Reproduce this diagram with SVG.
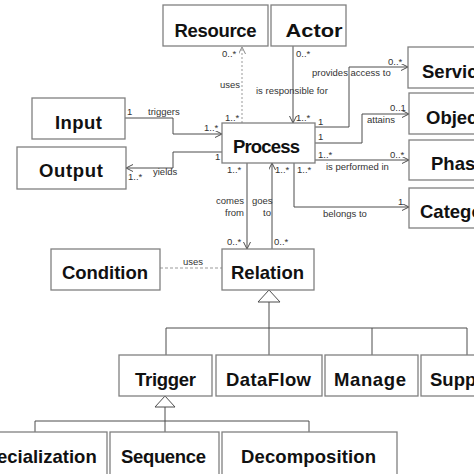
<svg xmlns="http://www.w3.org/2000/svg" width="474" height="474" viewBox="0 0 474 474">
<style>
.box{fill:#fff;stroke:#808080;stroke-width:1.3}
.name{font-family:"Liberation Sans",Arial,sans-serif;font-weight:bold;font-size:18.5px;fill:#111;text-anchor:middle}
.clip{text-anchor:start}
.lbl{font-family:"Liberation Sans",Arial,sans-serif;font-size:9.5px;fill:#333}
.end{text-anchor:end}
.conn{fill:none;stroke:#4d4d4d;stroke-width:1}
.dot{fill:none;stroke:#999;stroke-width:1;stroke-dasharray:2,2}
.dash{fill:none;stroke:#999;stroke-width:1;stroke-dasharray:3,2}
.gen{fill:#fff;stroke:#4d4d4d;stroke-width:1}
</style>
<defs>
<marker id="arr" markerUnits="userSpaceOnUse" markerWidth="9" markerHeight="9" refX="7" refY="3.5" orient="auto">
<path d="M0,0 L7,3.5 L0,7" fill="none" stroke="#4d4d4d" stroke-width="1"/>
</marker>
<marker id="arrg" markerUnits="userSpaceOnUse" markerWidth="9" markerHeight="9" refX="7" refY="3.5" orient="auto">
<path d="M0,0 L7,3.5 L0,7" fill="none" stroke="#888" stroke-width="1"/>
</marker>
</defs>
<rect width="474" height="474" fill="#fff"/>

<g id="connectors">
<line class="dot" x1="242" y1="123" x2="242" y2="47" marker-end="url(#arrg)"/>
<line class="conn" x1="293" y1="46" x2="293" y2="123" marker-end="url(#arr)"/>
<polyline class="conn" points="315,127 349,127 349,67 408,67" marker-end="url(#arr)"/>
<polyline class="conn" points="315,143 362,143 362,114 409,114" marker-end="url(#arr)"/>
<line class="conn" x1="315" y1="160" x2="409" y2="160" marker-end="url(#arr)"/>
<polyline class="conn" points="294,163 294,207 409,207" marker-end="url(#arr)"/>
<line class="conn" x1="247" y1="163" x2="247" y2="249" marker-end="url(#arr)"/>
<line class="conn" x1="272" y1="249" x2="272" y2="163" marker-end="url(#arr)"/>
<polyline class="conn" points="125,118 173,118 173,134 222,134" marker-end="url(#arr)"/>
<polyline class="conn" points="222,152 173,152 173,168 126,168" marker-end="url(#arr)"/>
<line class="dash" x1="160" y1="268" x2="222" y2="268"/>
<polygon class="gen" points="269,290 258,302 280,302"/>
<line class="conn" x1="269" y1="302" x2="269" y2="355"/>
<polyline class="conn" points="166,355 166,328 467,328 467,355"/>
<line class="conn" x1="372" y1="328" x2="372" y2="355"/>
<polygon class="gen" points="165,396 155,407 175,407"/>
<line class="conn" x1="165" y1="407" x2="165" y2="432"/>
<polyline class="conn" points="35,432 35,421 309,421 309,432"/>
<text class="lbl" x="127" y="115">1</text>
<text class="lbl" x="148" y="115">triggers</text>
<text class="lbl" x="204" y="131">1..*</text>
<text class="lbl" x="215" y="160">1</text>
<text class="lbl" x="128" y="180">1..*</text>
<text class="lbl" x="153" y="175">yields</text>
<text class="lbl" x="222" y="57">0..*</text>
<text class="lbl" x="220" y="88">uses</text>
<text class="lbl" x="296" y="57">0..*</text>
<text class="lbl" x="256" y="94">is responsible for</text>
<text class="lbl" x="225" y="121">1..*</text>
<text class="lbl" x="296" y="121">1..*</text>
<text class="lbl" x="312" y="76">provides access to</text>
<text class="lbl" x="388" y="65">0..*</text>
<text class="lbl" x="318" y="125">1</text>
<text class="lbl" x="318" y="140">1</text>
<text class="lbl" x="367" y="123">attains</text>
<text class="lbl" x="390" y="111">0..1</text>
<text class="lbl" x="318" y="158">1..*</text>
<text class="lbl" x="326" y="170">is performed in</text>
<text class="lbl" x="390" y="158">0..*</text>
<text class="lbl" x="398" y="205">1</text>
<text class="lbl" x="323" y="217">belongs to</text>
<text class="lbl" x="227" y="173">1..*</text>
<text class="lbl" x="275" y="173">1..*</text>
<text class="lbl" x="297" y="173">1..*</text>
<text class="lbl end" x="244" y="204">comes</text>
<text class="lbl end" x="244" y="216">from</text>
<text class="lbl" x="252" y="204">goes</text>
<text class="lbl end" x="271" y="216">to</text>
<text class="lbl" x="227" y="245">0..*</text>
<text class="lbl" x="274" y="245">0..*</text>
<text class="lbl" x="183" y="265">uses</text>
</g>

<g id="resource"><rect class="box" x="163" y="5" width="105" height="41"/><text class="name" x="215.5" y="37" textLength="82">Resource</text></g>
<g id="actor"><rect class="box" x="271" y="5" width="75" height="41"/><text class="name" x="314" y="37" font-size="20" textLength="57" lengthAdjust="spacingAndGlyphs">Actor</text></g>
<g id="service"><rect class="box" x="408" y="47" width="80" height="41"/><text class="name clip" x="422" y="78">Service</text></g>
<g id="object"><rect class="box" x="409" y="93" width="80" height="41"/><text class="name clip" x="426" y="123.5">Object</text></g>
<g id="phase"><rect class="box" x="409" y="140" width="80" height="40"/><text class="name clip" x="431" y="170">Phase</text></g>
<g id="category"><rect class="box" x="409" y="188" width="80" height="40"/><text class="name clip" x="420" y="218">Category</text></g>
<g id="input"><rect class="box" x="32" y="98" width="93" height="41"/><text class="name" x="78.5" y="129" textLength="47">Input</text></g>
<g id="output"><rect class="box" x="17" y="147" width="109" height="42"/><text class="name" x="71" y="177" textLength="64">Output</text></g>
<g id="process"><rect class="box" x="222" y="123" width="93" height="40"/><text class="name" x="266.5" y="153" textLength="67">Process</text></g>
<g id="condition"><rect class="box" x="51" y="249" width="109" height="41"/><text class="name" x="105" y="279" textLength="86">Condition</text></g>
<g id="relation"><rect class="box" x="222" y="249" width="92" height="41"/><text class="name" x="267.5" y="279" textLength="73">Relation</text></g>
<g id="trigger"><rect class="box" x="119" y="355" width="93" height="41"/><text class="name" x="165.5" y="386" textLength="61">Trigger</text></g>
<g id="dataflow"><rect class="box" x="216" y="355" width="106" height="41"/><text class="name" x="268.5" y="386" textLength="85">DataFlow</text></g>
<g id="manage"><rect class="box" x="325" y="355" width="93" height="41"/><text class="name" x="370" y="386" textLength="72">Manage</text></g>
<g id="support"><rect class="box" x="421" y="355" width="80" height="41"/><text class="name clip" x="430" y="386">Support</text></g>
<g id="specialization"><rect class="box" x="-2" y="432" width="109" height="50"/><text class="name" x="35" y="463">Specialization</text></g>
<g id="sequence"><rect class="box" x="110" y="432" width="109" height="50"/><text class="name" x="163.5" y="463" textLength="85">Sequence</text></g>
<g id="decomposition"><rect class="box" x="222" y="432" width="175" height="50"/><text class="name" x="308.5" y="463" textLength="135">Decomposition</text></g>
</svg>
